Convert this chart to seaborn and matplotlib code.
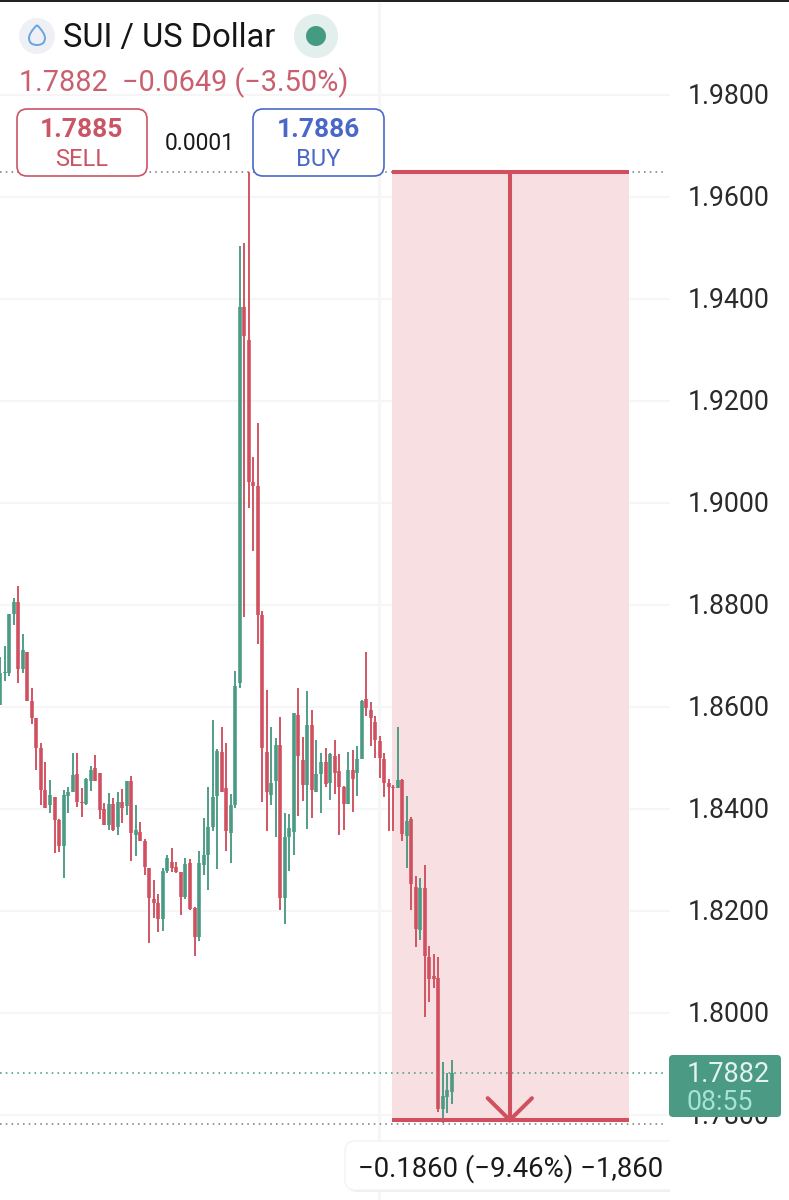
import numpy as np
import pandas as pd
import seaborn as sns
import matplotlib.pyplot as plt
from matplotlib.patches import FancyBboxPatch, Circle, Rectangle, PathPatch
from matplotlib.path import Path
from matplotlib.transforms import Affine2D

# candles
opens = [1.8604, 1.8666, 1.8666, 1.8782, 1.8805, 1.8675, 1.8708, 1.8612, 1.8579, 1.8520,
         1.8437, 1.8408, 1.8424, 1.8378, 1.8328, 1.8426, 1.8434, 1.8469, 1.8414, 1.8409,
         1.8455, 1.8480, 1.8471, 1.8400, 1.8369, 1.8409, 1.8365, 1.8414, 1.8405, 1.8454,
         1.8350, 1.8354, 1.8337, 1.8284, 1.8224, 1.8216, 1.8185, 1.8278, 1.8297, 1.8286,
         1.8276, 1.8227, 1.8294, 1.8205, 1.8150, 1.8291, 1.8310, 1.8364, 1.8425, 1.8512,
         1.8441, 1.8353, 1.8407, 1.8647, 1.9384, 1.9320, 1.9042, 1.9033, 1.8780, 1.8512,
         1.8428, 1.8454, 1.8525, 1.8225, 1.8345, 1.8355, 1.8585, 1.8497, 1.8448, 1.8564,
         1.8433, 1.8469, 1.8493, 1.8451, 1.8503, 1.8475, 1.8444, 1.8410, 1.8477, 1.8471,
         1.8498, 1.8616, 1.8595, 1.8570, 1.8533, 1.8499, 1.8451, 1.8444, 1.8441, 1.8456,
         1.8348, 1.8381, 1.8248, 1.8163, 1.8246, 1.8109, 1.8073, 1.8069, 1.7812, 1.7835,
         1.7845]
highs = [1.8699, 1.8720, 1.8782, 1.8814, 1.8838, 1.8744, 1.8708, 1.8637, 1.8579, 1.8530,
         1.8492, 1.8456, 1.8424, 1.8380, 1.8437, 1.8444, 1.8510, 1.8510, 1.8442, 1.8460,
         1.8485, 1.8506, 1.8471, 1.8412, 1.8431, 1.8421, 1.8433, 1.8439, 1.8454, 1.8465,
         1.8408, 1.8374, 1.8341, 1.8284, 1.8260, 1.8234, 1.8284, 1.8310, 1.8324, 1.8296,
         1.8276, 1.8303, 1.8301, 1.8207, 1.8317, 1.8382, 1.8443, 1.8574, 1.8518, 1.8560,
         1.8529, 1.8429, 1.8671, 1.9503, 1.9510, 1.9649, 1.9091, 1.9156, 1.8789, 1.8634,
         1.8560, 1.8539, 1.8580, 1.8392, 1.8391, 1.8588, 1.8637, 1.8541, 1.8631, 1.8595,
         1.8536, 1.8510, 1.8520, 1.8510, 1.8536, 1.8508, 1.8446, 1.8511, 1.8515, 1.8524,
         1.8614, 1.8708, 1.8609, 1.8582, 1.8543, 1.8510, 1.8458, 1.8448, 1.8561, 1.8458,
         1.8426, 1.8384, 1.8268, 1.8265, 1.8291, 1.8131, 1.8116, 1.8110, 1.7904, 1.7882,
         1.7908]
lows = [1.8604, 1.8651, 1.8661, 1.8761, 1.8648, 1.8666, 1.8612, 1.8567, 1.8476, 1.8408,
        1.8401, 1.8392, 1.8314, 1.8316, 1.8264, 1.8393, 1.8433, 1.8404, 1.8384, 1.8408,
        1.8435, 1.8455, 1.8380, 1.8369, 1.8359, 1.8357, 1.8350, 1.8372, 1.8388, 1.8299,
        1.8308, 1.8337, 1.8271, 1.8137, 1.8186, 1.8159, 1.8161, 1.8275, 1.8276, 1.8275,
        1.8192, 1.8224, 1.8201, 1.8111, 1.8142, 1.8271, 1.8242, 1.8356, 1.8283, 1.8433,
        1.8318, 1.8295, 1.8401, 1.8637, 1.8777, 1.8990, 1.8906, 1.8724, 1.8414, 1.8356,
        1.8408, 1.8345, 1.8201, 1.8175, 1.8278, 1.8310, 1.8387, 1.8416, 1.8361, 1.8382,
        1.8433, 1.8393, 1.8443, 1.8417, 1.8429, 1.8350, 1.8358, 1.8410, 1.8395, 1.8426,
        1.8498, 1.8582, 1.8523, 1.8500, 1.8460, 1.8424, 1.8356, 1.8356, 1.8441, 1.8338,
        1.8284, 1.8201, 1.8129, 1.8144, 1.7992, 1.8022, 1.8049, 1.7806, 1.7784, 1.7804,
        1.7822]
closes = [1.8666, 1.8669, 1.8782, 1.8805, 1.8675, 1.8712, 1.8612, 1.8579, 1.8520, 1.8437,
          1.8401, 1.8427, 1.8378, 1.8328, 1.8427, 1.8434, 1.8467, 1.8414, 1.8412, 1.8459,
          1.8476, 1.8455, 1.8398, 1.8369, 1.8409, 1.8359, 1.8414, 1.8401, 1.8454, 1.8353,
          1.8358, 1.8337, 1.8286, 1.8225, 1.8215, 1.8185, 1.8279, 1.8303, 1.8284, 1.8276,
          1.8227, 1.8293, 1.8203, 1.8150, 1.8295, 1.8310, 1.8364, 1.8423, 1.8513, 1.8433,
          1.8356, 1.8407, 1.8641, 1.9384, 1.9327, 1.9042, 1.9033, 1.8780, 1.8520, 1.8433,
          1.8451, 1.8525, 1.8225, 1.8346, 1.8363, 1.8588, 1.8503, 1.8448, 1.8564, 1.8438,
          1.8469, 1.8493, 1.8449, 1.8508, 1.8471, 1.8443, 1.8410, 1.8477, 1.8458, 1.8498,
          1.8611, 1.8599, 1.8578, 1.8536, 1.8500, 1.8451, 1.8443, 1.8441, 1.8456, 1.8351,
          1.8376, 1.8252, 1.8165, 1.8246, 1.8111, 1.8067, 1.8067, 1.7812, 1.7837, 1.7850,
          1.7882]

tick_prices = [1.98, 1.96, 1.94, 1.92, 1.90, 1.88, 1.86, 1.84, 1.82, 1.80, 1.78]
tick_labels = ['1.9800', '1.9600', '1.9400', '1.9200', '1.9000', '1.8800',
               '1.8600', '1.8400', '1.8200', '1.8000', '1.7800']

last_price = 1.7882
measure_top = 1.9649
measure_bottom = 1.7784
measure_end = 1.7790

RED = '#d0505f'
GREEN = '#4a9a84'
BLUE = '#4a68c8'
SHADE = '#f8dfe2'
GRID = '#f6f6f6'

sns.set_theme(style='white')
plt.rcParams['font.family'] = ['Roboto', 'DejaVu Sans']

fig = plt.figure(figsize=(7.89, 12), dpi=100)
ax = fig.add_axes([0, 0, 670 / 789, 1])
ax.patch.set_alpha(0)

# pixel coordinates of the screenshot, y going down
px = Affine2D().scale(1 / 789, -1 / 1200).translate(0, 1) + fig.transFigure

candles = pd.DataFrame({'idx': np.arange(len(opens)), 'open': opens, 'high': highs,
                        'low': lows, 'close': closes})
candles['direction'] = np.where(candles['close'] >= candles['open'], 'up', 'down')
wicks = candles.melt(id_vars=['idx', 'direction'], value_vars=['high', 'low'], value_name='price')
bodies = candles.melt(id_vars=['idx', 'direction'], value_vars=['open', 'close'], value_name='price')
palette = {'up': GREEN, 'down': RED}

# grid first
ax.set_yticks(tick_prices)
ax.set_yticklabels(tick_labels)
ax.grid(True, axis='y', color=GRID, lw=1.6, zorder=0)
ax.axvline(83.9, color=GRID, lw=2.2, zorder=0)

# measure shading
left, right, arrow_x = 86.7, 139.2, 112.8
ax.add_patch(Rectangle((left, measure_end), right - left, measure_top - measure_end,
                       facecolor=SHADE, edgecolor='none', zorder=1))

dots = (0, (1, 2.6))
ax.axhline(measure_top, xmax=664 / 670, color='#808080', lw=1.15, ls=dots, zorder=1.5)
ax.axhline(measure_bottom - 0.0002, xmax=664 / 670, color='#808080', lw=1.15, ls=dots, zorder=1.5)
ax.axhline(last_price, xmax=664 / 670, color=GREEN, lw=1.15, ls=dots, zorder=1.5)

sns.lineplot(data=wicks, x='idx', y='price', hue='direction', units='idx', estimator=None,
             sort=False, palette=palette, lw=1.35, legend=False, ax=ax,
             solid_capstyle='butt', zorder=3)
sns.lineplot(data=bodies, x='idx', y='price', hue='direction', units='idx', estimator=None,
             sort=False, palette=palette, lw=2.6, legend=False, ax=ax,
             solid_capstyle='butt', zorder=3)

# measure tool lines
ax.plot([left, right], [measure_top, measure_top], color=RED, lw=2.9, solid_capstyle='butt', zorder=4)
ax.plot([left, right], [measure_end, measure_end], color=RED, lw=2.9, solid_capstyle='butt', zorder=4)
ax.plot([arrow_x, arrow_x], [measure_top, measure_end], color=RED, lw=2.9, solid_capstyle='butt', zorder=4)
ax.plot([arrow_x - 4.9, arrow_x, arrow_x + 4.9],
        [measure_end + 0.0043, measure_end, measure_end + 0.0043],
        color=RED, lw=2.9, solid_joinstyle='miter', zorder=4)

ax.set_xlim(-0.066, 148.26)
ax.set_ylim(1.8 - 187 / 5100, 1.8 + 1013 / 5100)
ax.set_xticks([])
ax.set_xlabel('')
ax.set_ylabel('')
ax.yaxis.tick_right()
ax.tick_params(axis='y', length=0, pad=13, labelsize=19.2, labelcolor='#2a2a2a')
sns.despine(ax=ax, left=True, right=True, top=True, bottom=True)

# price labels sit a little high on the grid lines
for tick in ax.yaxis.get_major_ticks():
    tick.label2.set_transform(tick.label2.get_transform() + Affine2D().translate(0, 2))

# header
ax.add_patch(Circle((37, 36), 18, transform=px, facecolor='#eef0f6', edgecolor='none', zorder=5))
drop = Path([(37, 25), (29, 33), (29, 38), (29, 45), (37, 45), (45, 45), (45, 38), (45, 33), (37, 25)],
            [Path.MOVETO, Path.CURVE3, Path.CURVE3, Path.CURVE3, Path.CURVE3,
             Path.CURVE3, Path.CURVE3, Path.CURVE3, Path.CURVE3])
ax.add_patch(PathPatch(drop, transform=px, facecolor='none', edgecolor='#6aa5e0', lw=1.4, zorder=6))
ax.add_patch(Circle((316, 36), 22, transform=px, facecolor='#e3efec', edgecolor='none', zorder=5))
ax.add_patch(Circle((316, 36), 10, transform=px, facecolor='#459a82', edgecolor='none', zorder=6))

ax.text(63, 38, 'SUI / US Dollar', transform=px, fontsize=23.5, color='#151515', va='center', ha='left', zorder=7)
ax.text(19, 83, '1.7882  \u22120.0649 (\u22123.50%)', transform=px, fontsize=20.8, color='#c9606f',
        va='center', ha='left', zorder=7)

def order_box(x0, x1, edge, price, label):
    ax.add_patch(FancyBboxPatch((x0 + 10, 119), x1 - x0 - 20, 47, boxstyle='round,pad=10,rounding_size=10',
                                transform=px, facecolor='white', edgecolor=edge, lw=1.2, zorder=5))
    mid = (x0 + x1) / 2
    ax.text(mid, 130, price, transform=px, fontsize=19, fontweight='bold', color=edge,
            ha='center', va='center', zorder=7)
    ax.text(mid, 160, label, transform=px, fontsize=17, color=edge, ha='center', va='center', zorder=7)

order_box(17, 147, '#cc5565', '1.7885', 'SELL')
order_box(253, 384, BLUE, '1.7886', 'BUY')
ax.text(200, 144, '0.0001', transform=px, fontsize=16.5, color='#1a1a1a', ha='center', va='center', zorder=7)

# tooltip under the measure tool, runs off the edge of the pane
ax.add_patch(FancyBboxPatch((357, 1153), 400, 29, boxstyle='round,pad=10,rounding_size=10', transform=px,
                            facecolor='#efefef', edgecolor='none', zorder=4.9))
ax.add_patch(FancyBboxPatch((355, 1151), 400, 29, boxstyle='round,pad=10,rounding_size=10', transform=px,
                            facecolor='white', edgecolor='#f3f3f3', lw=1, zorder=5))
ax.text(358, 1169, '\u22120.1860 (\u22129.46%) \u22121,860', transform=px, fontsize=19.8, color='#1a1a1a',
        ha='left', va='center', zorder=7)

# last price badge, sits over the 1.7800 label
fig.add_artist(FancyBboxPatch((673, 1059), 104, 54, boxstyle='round,pad=4,rounding_size=4', transform=px,
                              facecolor=GREEN, edgecolor='none', zorder=5))
fig.text(728, 1074, '1.7882', transform=px, fontsize=19.5, color='#e4f3ef', ha='center', va='center', zorder=6)
fig.text(687, 1103, '08:55', transform=px, fontsize=19.2, color='#a8e2d4', ha='left', va='center', zorder=6)

# dark strip along the top edge of the screenshot
fig.add_artist(Rectangle((0, 0), 789, 1.5, transform=px, facecolor='#222222', edgecolor='none', zorder=6))

fig.savefig('out.png', dpi=100)
